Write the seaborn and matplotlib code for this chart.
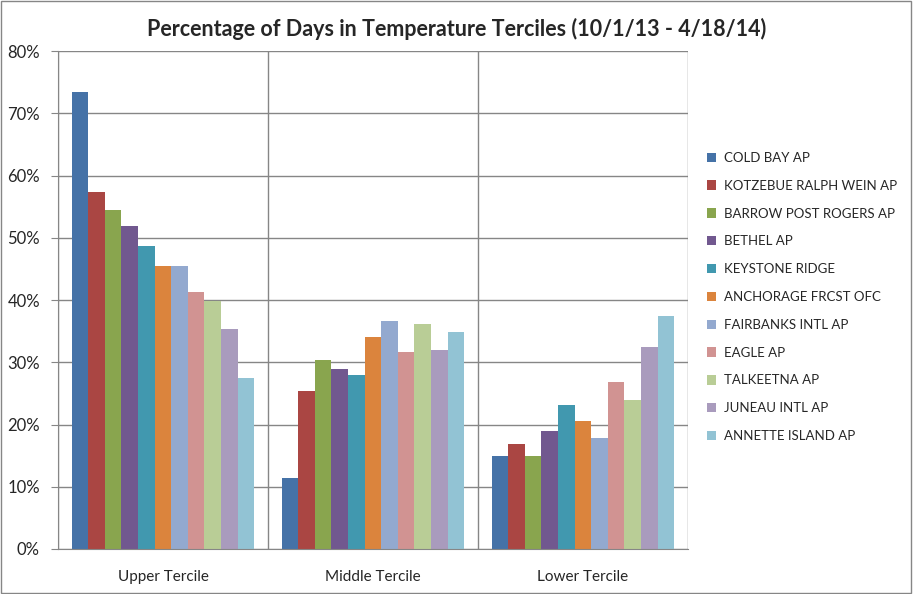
import pandas as pd
import matplotlib
matplotlib.use('Agg')
import matplotlib.pyplot as plt
import seaborn as sns
from matplotlib.ticker import FixedLocator, PercentFormatter

# stations in legend order
stations = ['COLD BAY AP', 'KOTZEBUE RALPH WEIN AP', 'BARROW POST ROGERS AP', 'BETHEL AP',
            'KEYSTONE RIDGE', 'ANCHORAGE FRCST OFC', 'FAIRBANKS INTL AP', 'EAGLE AP',
            'TALKEETNA AP', 'JUNEAU INTL AP', 'ANNETTE ISLAND AP']
terciles = ['Upper Tercile', 'Middle Tercile', 'Lower Tercile']

# percent of days
upper = [73.5, 57.4, 54.5, 51.9, 48.7, 45.5, 45.5, 41.3, 39.9, 35.4, 27.5]
middle = [11.4, 25.4, 30.4, 29.0, 28.0, 34.0, 36.6, 31.6, 36.1, 32.0, 34.9]
lower = [15.0, 16.9, 15.0, 19.0, 23.2, 20.5, 17.9, 26.9, 24.0, 32.5, 37.5]

colors = ['#4572A7', '#AA4643', '#89A54E', '#71588F', '#4198AF', '#DB843D',
          '#93A9CF', '#D19392', '#B9CD96', '#A99BBD', '#92C3D4']

rows = []
for t, vals in zip(terciles, [upper, middle, lower]):
    for s, v in zip(stations, vals):
        rows.append({'tercile': t, 'station': s, 'pct': v})
df = pd.DataFrame(rows)

sns.set_style('white')
plt.rcParams['font.family'] = ['Lato', 'DejaVu Sans']

fig = plt.figure(figsize=(9.13, 5.94), dpi=100)
ax = fig.add_axes([0.0635, 0.0758, 0.69, 0.838])

sns.barplot(data=df, x='tercile', y='pct', hue='station', order=terciles,
            hue_order=stations, palette=colors, width=0.87, saturation=1,
            linewidth=0, ax=ax)

ax.set_xlim(-0.5, 2.5)
ax.set_ylim(0, 80)
ax.yaxis.set_major_locator(FixedLocator(range(0, 81, 10)))
ax.yaxis.set_major_formatter(PercentFormatter(decimals=0))
ax.xaxis.set_minor_locator(FixedLocator([-0.5, 0.5, 1.5, 2.5]))
ax.grid(True, axis='y', color='#868686', linewidth=1)
ax.grid(True, axis='x', which='minor', color='#868686', linewidth=1)
ax.set_axisbelow(True)
ax.tick_params(axis='x', which='major', length=0, labelsize=11, pad=15)
ax.tick_params(axis='x', which='minor', length=5, color='#868686', direction='out')
ax.tick_params(axis='y', length=5, color='#868686', labelsize=12, left=True,
               direction='out', pad=8)
for side in ['top', 'right']:
    ax.spines[side].set_visible(False)
for side in ['left', 'bottom']:
    ax.spines[side].set_color('#868686')
ax.set_xlabel('')
ax.set_ylabel('')

ax.legend(loc='center left', bbox_to_anchor=(0.761, 0.5), bbox_transform=fig.transFigure,
          frameon=False, fontsize=9.5, handlelength=0.7, handleheight=0.7,
          handletextpad=0.6, labelspacing=1.2)

fig.suptitle('Percentage of Days in Temperature Terciles (10/1/13 - 4/18/14)',
             fontsize=15.5, fontweight='bold', y=0.97)

fig.patches.append(plt.Rectangle((0.001, 0.001), 0.997, 0.997, transform=fig.transFigure,
                                 fill=False, edgecolor='#868686', linewidth=1))

fig.savefig('out.png', dpi=100)
